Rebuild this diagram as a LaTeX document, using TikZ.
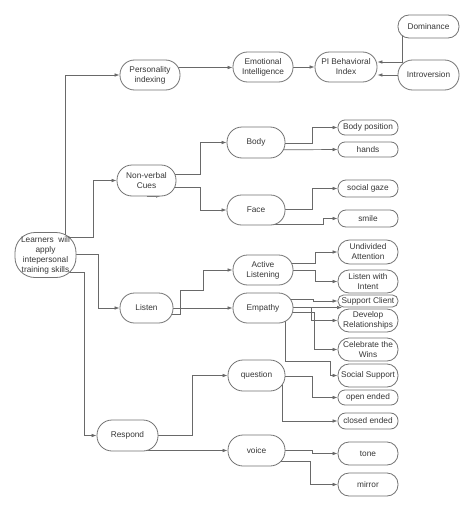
\documentclass[tikz,border=0pt]{standalone}
\usepackage{fontspec}
\setmainfont{Liberation Sans}
\usetikzlibrary{arrows.meta}
\pgfdeclarelayer{bg}
\pgfdeclarelayer{paper}
\pgfsetlayers{paper,bg,main}
\definecolor{linec}{RGB}{105,105,105}
\definecolor{bordc}{RGB}{115,115,115}
\definecolor{txtc}{RGB}{55,55,55}
\newcommand{\fsz}{\fontsize{8.3}{10}\selectfont}
\begin{document}
\begin{tikzpicture}[x=1pt,y=-1pt,
  box/.style n args={3}{draw=bordc, line width=0.8pt, fill=white, rounded corners=#3pt,
    minimum width=#1pt, minimum height=#2pt, inner sep=0pt, align=center, text=txtc, font=\fsz},
  conn/.style={draw=linec, line width=0.7pt, -{Latex[length=5pt,width=3.6pt]}}]
\begin{pgfonlayer}{paper}
\fill[white] (0,0) rectangle (474,511);
\end{pgfonlayer}
\useasboundingbox (0,0) rectangle (474,511);

% nodes
\node[box={61}{45}{20}] (learn) at (45.5,255) {Learners~~will\\apply\\intepersonal\\training skills};
\node[box={60}{30}{14.5}] (pers) at (150,75) {Personality\\indexing};
\node[box={60}{30}{14.5}] (emo) at (263,67) {Emotional\\Intelligence};
\node[box={62}{30}{14.5}] (pi) at (346,67) {PI Behavioral\\Index};
\node[box={61}{23}{11}] (dom) at (428.5,26.5) {Dominance};
\node[box={61}{30}{14.5}] (intro) at (428.5,75) {Introversion};
\node[box={59}{31}{15}] (nv) at (146.5,180.5) {Non-verbal\\Cues};
\node[box={58}{31}{15}] (body) at (256,142.5) {Body};
\node[box={58}{30}{14.5}] (face) at (256,210) {Face};
\node[box={60}{15}{7}] (bpos) at (368,127.5) {Body position};
\node[box={60}{15}{7}] (hands) at (368,149.5) {hands};
\node[box={60}{17}{8}] (gaze) at (368,188.5) {social gaze};
\node[box={60}{17}{8}] (smile) at (368,218.5) {smile};
\node[box={53}{30}{14.5}] (listen) at (146.5,308) {Listen};
\node[box={60}{30}{14.5}] (actl) at (263,270) {Active\\Listening};
\node[box={60}{30}{14.5}] (emp) at (263,308) {Empathy};
\node[box={60}{24}{11.5}] (und) at (368,252) {Undivided\\Attention};
\node[box={60}{23}{11}] (lwi) at (368,281.5) {Listen with\\Intent};
\node[box={60}{12}{5.5}] (supc) at (368,301) {Support Client};
\node[box={60}{23}{11}] (dev) at (368,320.5) {Develop\\Relationships};
\node[box={60}{23}{11}] (cel) at (368,349.5) {Celebrate the\\Wins};
\node[box={60}{23}{11}] (soc) at (368,375.5) {Social Support};
\node[box={61}{31}{15}] (resp) at (127.5,435.5) {Respond};
\node[box={57}{31}{15}] (ques) at (256.5,375.5) {question};
\node[box={60}{15}{7}] (open) at (368,397.5) {open ended};
\node[box={60}{16}{7.5}] (closed) at (368,421) {closed ended};
\node[box={57}{31}{15}] (voice) at (256.5,450.5) {voice};
\node[box={60}{23}{11}] (tone) at (368,453.5) {tone};
\node[box={60}{23}{11}] (mirror) at (368,484.5) {mirror};
\coordinate (stray1) at (342,307.5);
\coordinate (stray2) at (161,196);

\begin{pgfonlayer}{bg}
% learners
\draw[conn] (learn.center -| 65,0) |- (pers.west);
\draw[conn] (learn.center |- 0,237) -- (93,237) |- (nv.west);
\draw[conn] (learn.center |- 0,254) -- (98,254) |- (listen.west);
\draw[conn] (learn.center |- 0,272) -- (84,272) |- (resp.west);
% personality chain
\draw[conn] (pers.center |- 0,67.5) -- (emo.west |- 0,67.5);
\draw[conn] (emo.east) -- (pi.west);
\draw[conn] (dom.center -| 402,0) |- (pi.east |- 0,62);
\draw[conn] (intro.center |- 0,75) -- (pi.east |- 0,75);
% non-verbal
\draw[conn] (nv.center |- 0,174) -- (200,174) |- (body.west);
\draw[conn] (nv.center |- 0,187) -- (200,187) |- (face.west);
\draw[conn] (nv.center |- 0,196) -- (stray2);
\draw[conn] (body.center |- 0,143) -- (312,143) |- (bpos.west);
\draw[conn] (body.center |- 0,150) -- (hands.west);
\draw[conn] (face.center |- 0,209) -- (312,209) |- (gaze.west);
\draw[conn] (face.center |- 0,224) -- (323,224) |- (smile.west);
% listen
\draw[conn] (listen.center |- 0,314) -- (180,314) -- (180,290) -- (203,290) |- (actl.west);
\draw[conn] (listen.center) -- (emp.west);
\draw[conn] (actl.center |- 0,263) -- (315,263) |- (und.west);
\draw[conn] (actl.center |- 0,270) -- (315,270) |- (lwi.west);
\draw[conn] (emp.center |- 0,299) -- (313,299) |- (supc.west);
\draw[conn] (emp.center |- 0,307.5) -- (stray1);
\draw[conn] (emp.center |- 0,307) -- (311,307) |- (dev.west);
\draw[conn] (emp.center |- 0,312) -- (314,312) |- (cel.west);
\draw[conn] (emp.center -| 285,0) -- (285,361) -- (330,361) |- (soc.west);
% respond
\draw[conn] (resp.center) -- (192,435.5) |- (ques.west);
\draw[conn] (resp.center |- 0,450.5) -- (voice.west);
\draw[conn] (ques.center |- 0,376) -- (312,376) |- (open.west);
\draw[conn] (ques.center -| 282,0) |- (closed.west);
\draw[conn] (voice.center |- 0,450) -- (312,450) |- (tone.west);
\draw[conn] (voice.center |- 0,461) -- (310,461) |- (mirror.west);
\end{pgfonlayer}
\end{tikzpicture}
\end{document}
